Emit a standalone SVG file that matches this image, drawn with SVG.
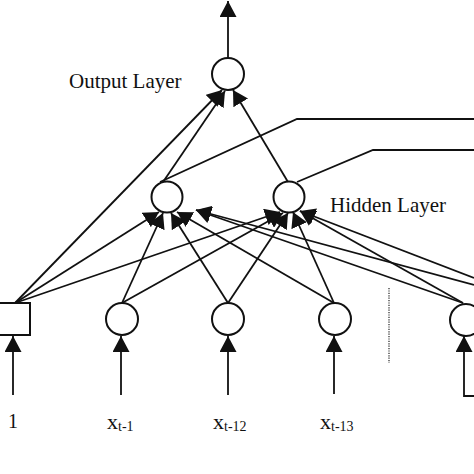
<svg xmlns="http://www.w3.org/2000/svg" width="474" height="474" viewBox="0 0 474 474">
<style>
.ln{stroke:#111;stroke-width:1.8;fill:none}
.nd{stroke:#111;stroke-width:2;fill:#fff}
.t{font-family:"Liberation Serif","Times New Roman",serif;fill:#111}
.in{marker-end:url(#big)}
.sm{marker-end:url(#small)}
</style>
<defs>
<marker id="big" markerUnits="userSpaceOnUse" markerWidth="17" markerHeight="17" viewBox="0 0 17 17" refX="16" refY="8.5" orient="auto"><path d="M0,0 L16,8.5 L0,17 z" fill="#111"/></marker>
<marker id="small" markerUnits="userSpaceOnUse" markerWidth="16" markerHeight="17" viewBox="0 0 16 17" refX="15" refY="8.5" orient="auto"><path d="M0,0 L15,8.5 L0,17 z" fill="#111"/></marker>
</defs>
<rect width="474" height="474" fill="#fff"/>
<g id="connectors">
<path class="ln in" d="M228,58 V1"/>
<path class="ln in" d="M13,395 V336"/>
<path class="ln in" d="M121,395 V336"/>
<path class="ln in" d="M228,395 V336"/>
<path class="ln in" d="M334,394 V336"/>
<path class="ln in" d="M474,396 H464 V336"/>
<path class="ln sm" d="M15,303 L222,90"/>
<path class="ln sm" d="M163,182 L225,91"/>
<path class="ln sm" d="M288,182 L233,90"/>
<path class="ln" d="M160,182 L297,119 H474"/>
<path class="ln" d="M297,182 L373,150 H474"/>
<path class="ln sm" d="M15,303 L159,212"/>
<path class="ln sm" d="M122,303 L163,213"/>
<path class="ln sm" d="M228,303 L171,213"/>
<path class="ln sm" d="M334,303 L177,212"/>
<path class="ln sm" d="M463,303 L196,210"/>
<path class="ln sm" d="M474,285 L196,210"/>
<path class="ln sm" d="M15,303 L280,212"/>
<path class="ln sm" d="M122,303 L283,213"/>
<path class="ln sm" d="M228,303 L288,213"/>
<path class="ln sm" d="M334,303 L293,212"/>
<path class="ln sm" d="M463,303 L300,211"/>
<path class="ln sm" d="M474,278 L300,211"/>
<path d="M389,288 V363" stroke="#333" stroke-width="1.3" stroke-dasharray="1.2 1.2" fill="none"/>
</g>
<g id="output"><circle class="nd" cx="228" cy="74" r="16"/></g>
<g id="hidden1"><circle class="nd" cx="167" cy="197" r="15.5"/></g>
<g id="hidden2"><circle class="nd" cx="289" cy="197" r="15.5"/></g>
<g id="bias"><rect class="nd" x="-4" y="303" width="34" height="32"/></g>
<g id="in1"><circle class="nd" cx="122" cy="319" r="16"/></g>
<g id="in12"><circle class="nd" cx="228" cy="319" r="16"/></g>
<g id="in13"><circle class="nd" cx="335" cy="319" r="16"/></g>
<g id="inN"><circle class="nd" cx="466" cy="320" r="16"/></g>
<g id="labels">
<text class="t" x="69" y="88" font-size="21">Output Layer</text>
<text class="t" x="330" y="212" font-size="21">Hidden Layer</text>
<text class="t" x="13" y="428" font-size="20" text-anchor="middle">1</text>
<text class="t" x="107" y="429" font-size="22">x<tspan font-size="14" dy="2">t-1</tspan></text>
<text class="t" x="213" y="429" font-size="22">x<tspan font-size="14" dy="2">t-12</tspan></text>
<text class="t" x="320" y="429" font-size="22">x<tspan font-size="14" dy="2">t-13</tspan></text>
</g>
</svg>
